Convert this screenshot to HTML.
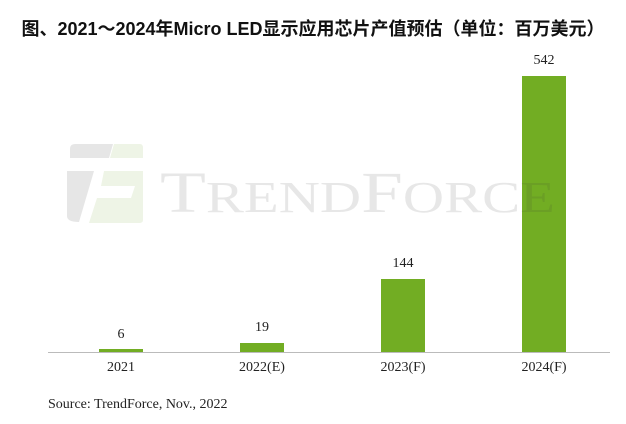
<!DOCTYPE html>
<html><head><meta charset="utf-8"><style>
body{margin:0;background:#fff;width:626px;height:424px;overflow:hidden;position:relative;font-family:"Liberation Serif",serif}
.t{position:absolute;left:0;width:626px;top:15px;text-align:center;font:bold 18px "Liberation Sans","Noto Sans CJK SC",sans-serif;color:#111;letter-spacing:0px}
.b{position:absolute;background:#72ad23;width:44px}
.v{position:absolute;width:80px;text-align:center;font-size:14px;color:#222}
.x{position:absolute;top:360px;width:100px;text-align:center;font-size:14px;color:#222}
</style></head><body>
<div class="t">图、2021～2024年Micro LED显示应用芯片产值预估（单位：百万美元）</div>
<div class="b" style="left:99px;top:349px;height:3px"></div>
<div class="b" style="left:240px;top:343px;height:9px"></div>
<div class="b" style="left:381px;top:279px;height:73px"></div>
<div class="b" style="left:522px;top:76px;height:276px"></div>
<svg style="position:absolute;left:0;top:0" width="626" height="424">
<path d="M70 149 Q70 144 75 144 L113 144 L109 158 L70 158Z" fill="#e6e6e6"/>
<path d="M114 144 L140 144 Q143 144 143 148 L143 158 L110 158Z" fill="#eef4e6"/>
<path d="M67 171 L94 171 L79 222 Q67 222 67 216Z" fill="#e6e6e6"/>
<path d="M104 171 L143 171 L143 220 Q143 223 139 223 L89 223 L97 198 L131 198 L135 186 L101 186Z" fill="#eef4e6"/>
<text x="160" y="212" font-family="Liberation Serif" font-size="58" fill="rgba(60,60,60,0.12)" textLength="395" lengthAdjust="spacingAndGlyphs">T<tspan font-size="44">REND</tspan>F<tspan font-size="44">ORCE</tspan></text>
<line x1="48" y1="352.5" x2="610" y2="352.5" stroke="#bbb" stroke-width="1"/>
</svg>
<div class="v" style="left:81px;top:327px">6</div>
<div class="v" style="left:222px;top:320px">19</div>
<div class="v" style="left:363px;top:256px">144</div>
<div class="v" style="left:504px;top:53px">542</div>
<div class="x" style="left:71px">2021</div>
<div class="x" style="left:212px">2022(E)</div>
<div class="x" style="left:353px">2023(F)</div>
<div class="x" style="left:494px">2024(F)</div>
<div style="position:absolute;left:48px;top:397px;font-size:14px;color:#222">Source: TrendForce, Nov., 2022</div>
</body></html>
